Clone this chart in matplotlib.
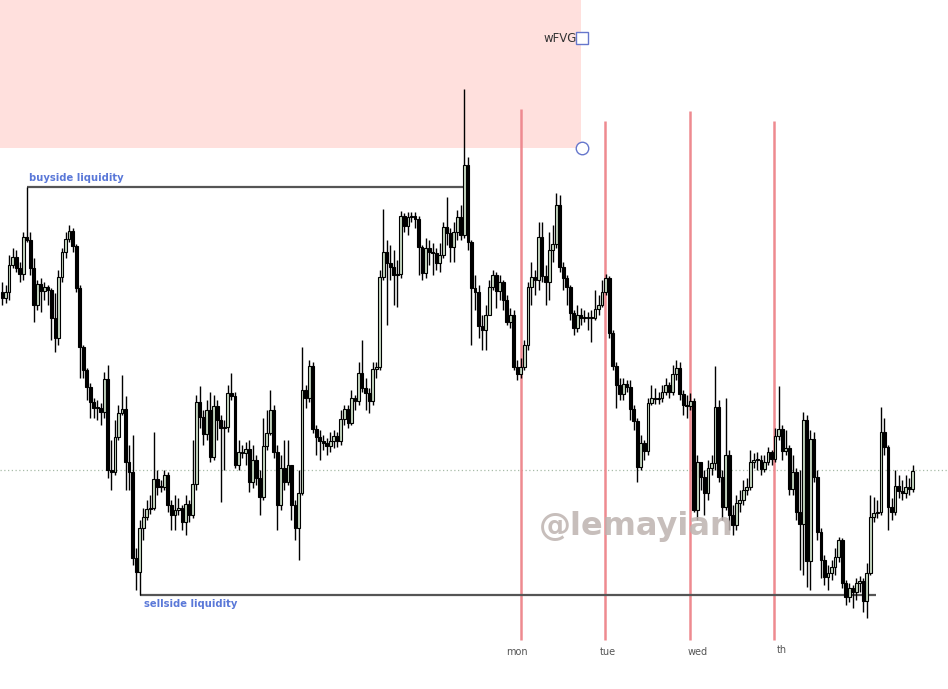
import numpy as np
import matplotlib
matplotlib.use("Agg")
import matplotlib.pyplot as plt
from matplotlib.patches import Rectangle

# price series (open of each candle = previous close)
first_open = 408
closes = [402, 408, 435, 443, 432, 426, 463, 460, 432, 395,
          416, 409, 413, 410, 382, 362, 423, 448, 461, 469,
          454, 412, 353, 330, 313, 298, 292, 292, 288, 321,
          230, 228, 263, 287, 291, 238, 228, 142, 128, 172,
          183, 191, 192, 221, 213, 213, 225, 195, 185, 190,
          192, 178, 196, 185, 216, 298, 283, 266, 290, 243,
          294, 280, 272, 273, 307, 304, 235, 248, 247, 251,
          218, 240, 222, 203, 254, 267, 290, 248, 195, 232,
          218, 235, 195, 172, 207, 310, 302, 334, 271, 263,
          259, 257, 254, 259, 264, 259, 281, 291, 277, 302,
          299, 327, 312, 307, 299, 331, 333, 423, 448, 437,
          433, 425, 426, 484, 474, 483, 484, 481, 453, 427,
          452, 448, 447, 437, 445, 473, 467, 453, 468, 483,
          465, 535, 458, 412, 408, 374, 370, 385, 413, 425,
          409, 418, 400, 378, 385, 333, 326, 333, 355, 413,
          423, 420, 463, 424, 418, 450, 456, 495, 433, 422,
          413, 387, 372, 385, 382, 383, 382, 382, 391, 395,
          408, 422, 367, 334, 315, 306, 316, 313, 291, 279,
          233, 257, 249, 297, 302, 301, 302, 308, 315, 308,
          326, 332, 306, 295, 294, 299, 190, 238, 223, 207,
          232, 237, 293, 223, 193, 245, 185, 175, 197, 200,
          210, 213, 238, 240, 240, 231, 238, 248, 241, 264,
          271, 249, 252, 211, 228, 188, 176, 280, 139, 261,
          223, 168, 140, 123, 127, 133, 143, 160, 117, 103,
          112, 108, 117, 119, 99, 127, 183, 187, 188, 268,
          253, 193, 188, 214, 209, 207, 213, 211, 229]
highs = [418, 415, 445, 452, 450, 438, 468, 513, 468, 442,
         420, 422, 418, 415, 412, 407, 430, 452, 468, 475,
         472, 456, 415, 355, 332, 317, 302, 300, 297, 328,
         335, 260, 280, 295, 325, 304, 255, 265, 152, 180,
         192, 200, 205, 268, 230, 220, 230, 228, 200, 205,
         202, 195, 205, 200, 260, 305, 314, 290, 300, 308,
         305, 300, 285, 280, 315, 327, 308, 260, 255, 258,
         260, 255, 245, 230, 282, 290, 310, 295, 255, 245,
         260, 260, 235, 200, 230, 353, 315, 340, 338, 275,
         270, 265, 262, 268, 270, 268, 290, 295, 295, 310,
         305, 338, 360, 322, 312, 338, 338, 430, 491, 460,
         455, 450, 440, 489, 487, 488, 488, 488, 484, 455,
         462, 460, 457, 452, 457, 478, 503, 472, 478, 490,
         495, 611, 543, 460, 425, 415, 385, 395, 420, 430,
         428, 425, 420, 405, 392, 390, 340, 342, 360, 418,
         438, 430, 478, 478, 435, 468, 475, 507, 505, 438,
         425, 415, 390, 395, 392, 390, 388, 390, 410, 405,
         420, 426, 424, 370, 338, 322, 322, 320, 320, 295,
         282, 265, 260, 302, 315, 312, 308, 315, 322, 318,
         335, 340, 338, 310, 305, 307, 302, 245, 238, 230,
         240, 245, 334, 300, 230, 302, 250, 195, 205, 210,
         220, 222, 250, 247, 248, 245, 245, 253, 250, 272,
         314, 275, 270, 255, 245, 232, 230, 288, 285, 270,
         268, 230, 172, 145, 135, 140, 152, 163, 162, 120,
         117, 115, 122, 124, 122, 137, 205, 203, 200, 293,
         282, 255, 202, 230, 225, 220, 225, 222, 235]
lows = [395, 397, 400, 432, 428, 418, 420, 458, 425, 378,
        390, 388, 400, 395, 360, 348, 355, 418, 442, 458,
        448, 408, 322, 322, 300, 282, 282, 280, 275, 282,
        222, 210, 225, 260, 285, 210, 210, 135, 110, 105,
        160, 180, 186, 190, 205, 208, 210, 188, 170, 170,
        185, 170, 165, 178, 182, 210, 272, 255, 260, 238,
        240, 260, 198, 230, 268, 300, 232, 230, 242, 235,
        208, 212, 215, 185, 200, 250, 265, 242, 170, 190,
        210, 215, 180, 160, 140, 205, 292, 298, 267, 245,
        240, 250, 245, 248, 252, 253, 255, 275, 272, 275,
        290, 295, 308, 290, 287, 295, 322, 330, 420, 375,
        420, 395, 393, 422, 468, 465, 478, 472, 425, 420,
        422, 435, 425, 430, 428, 442, 455, 438, 438, 460,
        460, 462, 450, 355, 390, 362, 350, 350, 385, 410,
        392, 400, 390, 375, 372, 330, 320, 322, 330, 350,
        395, 405, 410, 418, 395, 400, 438, 452, 428, 410,
        395, 380, 365, 368, 375, 378, 370, 358, 380, 385,
        393, 405, 362, 330, 292, 300, 300, 308, 280, 270,
        218, 230, 240, 245, 295, 296, 296, 298, 305, 302,
        305, 320, 300, 285, 282, 290, 188, 180, 210, 185,
        200, 225, 230, 218, 180, 190, 170, 165, 170, 188,
        195, 205, 210, 232, 230, 225, 228, 235, 235, 238,
        260, 240, 245, 205, 205, 180, 130, 125, 113, 110,
        218, 160, 122, 115, 110, 120, 125, 138, 112, 95,
        98, 92, 100, 108, 88, 82, 125, 178, 182, 185,
        245, 170, 180, 185, 202, 200, 202, 205, 208]

buyside_level = 513
sellside_level = 105
mid_level = 230
fvg_bottom, fvg_top = 552, 700
day_names = ["mon", "tue", "wed", "th"]
day_index = [147.0, 170.8, 194.9, 218.7]
day_line_top = [591, 579, 589, 579]
day_label_index = [145.9, 171.7, 197.2, 221.0]
day_label_level = [48, 48, 48, 50]

closes = np.array(closes, dtype=float)
opens = np.concatenate([[first_open], closes[:-1]])
highs = np.maximum(np.array(highs, dtype=float), np.maximum(opens, closes))
lows = np.minimum(np.array(lows, dtype=float), np.minimum(opens, closes))
idx = np.arange(len(closes))

fig = plt.figure(figsize=(9.48, 6.89), dpi=100)
ax = fig.add_axes([0, 0, 1, 1])
ax.set_xlim(-0.567, 268.0)
ax.set_ylim(11, 700)
ax.axis("off")

# weekly fair value gap zone
ax.add_patch(Rectangle((-0.567, fvg_bottom), 164.6, fvg_top - fvg_bottom,
                       facecolor="#ffe0dd", edgecolor="none", zorder=0))
ax.text(163.0, 662, "wFVG", ha="right", va="center", fontsize=8.5,
        color="#333333", zorder=5)
ax.plot([164.3], [662], marker="s", ms=8, mfc="white", mec="#6677cc",
        mew=1.0, zorder=6)
ax.plot([164.3], [fvg_bottom], marker="o", ms=9, mfc="white", mec="#6677cc",
        mew=1.0, zorder=6)

# dotted mid line
ax.axhline(mid_level, color="#a8bca8", lw=0.9, ls=(0, (1, 2)), zorder=1)

# day separators
ax.vlines(day_index, 60, day_line_top, color="#ee8a90", lw=1.8, zorder=1)
for x, y, name in zip(day_label_index, day_label_level, day_names):
    ax.text(x, y, name, ha="center", va="center", fontsize=7, color="#555555")

# liquidity levels
ax.hlines(buyside_level, 7, 131.8, color="#555555", lw=1.6, zorder=2)
ax.text(7.6, 522, "buyside liquidity", fontsize=7.2, fontweight="bold",
        color="#5a78d8", va="center", ha="left")
ax.hlines(sellside_level, 39, 247.6, color="#555555", lw=1.6, zorder=2)
ax.text(40.2, 96, "sellside liquidity", fontsize=7.2, fontweight="bold",
        color="#5a78d8", va="center", ha="left")

# watermark
ax.text(179.6, 173, "@lemayian", fontsize=23, fontweight="bold",
        color="#bdb3b0", alpha=0.85, ha="center", va="center", zorder=4)

# candles
up = closes > opens
ax.vlines(idx, lows, highs, color="black", lw=1.0, zorder=3)
body_lo = np.minimum(opens, closes)
body_h = np.maximum(np.abs(closes - opens), 1.0)
ax.bar(idx[up], body_h[up], bottom=body_lo[up], width=0.8,
       color="#c7d9c3", edgecolor="black", linewidth=0.8, zorder=3)
ax.bar(idx[~up], body_h[~up], bottom=body_lo[~up], width=0.8,
       color="black", edgecolor="black", linewidth=0.8, zorder=3)

fig.savefig("out.png", dpi=100)
